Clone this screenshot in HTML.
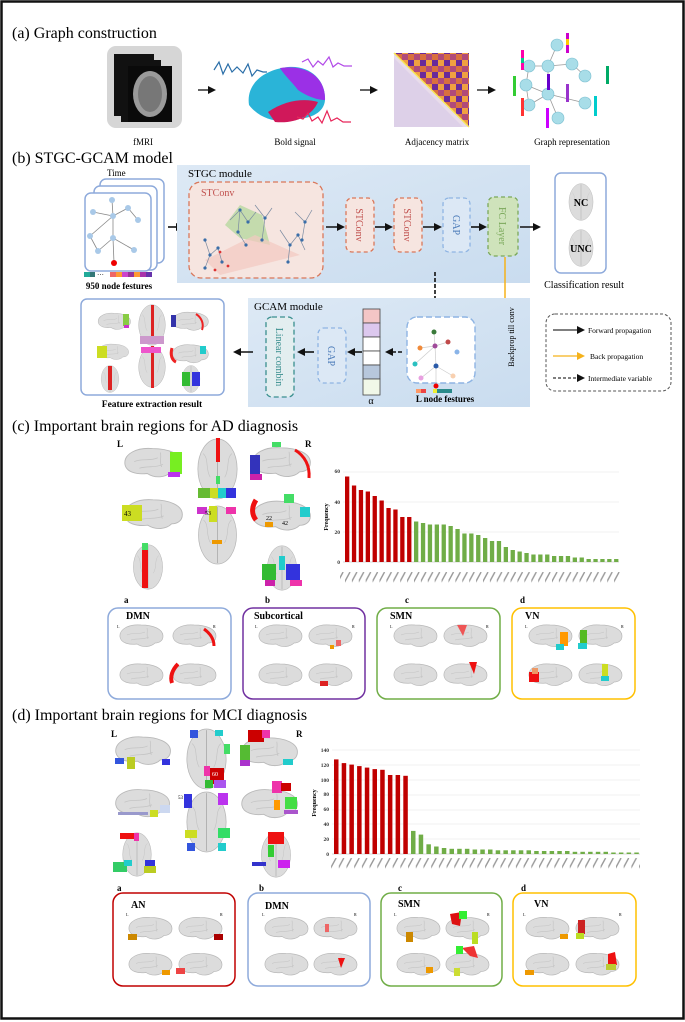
<!DOCTYPE html>
<html><head><meta charset="utf-8"><style>
html,body{margin:0;padding:0;background:#fff}
svg{display:block}
text{font-family:"Liberation Serif",serif}
</style></head><body>
<svg width="685" height="1022" viewBox="0 0 685 1022" xmlns="http://www.w3.org/2000/svg">
<defs>
<linearGradient id="bg" x1="0" y1="0" x2="1" y2="1"><stop offset="0" stop-color="#dde9f5"/><stop offset="1" stop-color="#c9dcef"/></linearGradient>
<symbol id="br" viewBox="0 0 48 26"><path d="M3 14 C2 6 12 1 24 2 C36 2 46 6 46 13 C46 18 42 20 38 20 C34 24 26 25 20 21 C12 22 4 20 3 14Z" fill="#dcdcdc" stroke="#b9b9b9" stroke-width="0.7"/><path d="M10 12 C16 9 22 12 28 9 M14 17 C20 15 26 17 32 14 M30 5 C31 9 29 12 31 16" fill="none" stroke="#c4c4c4" stroke-width="0.6"/></symbol>
<symbol id="top" viewBox="0 0 40 60"><ellipse cx="20" cy="30" rx="19" ry="29" fill="#dcdcdc" stroke="#b5b5b5" stroke-width="0.7"/><line x1="20" y1="2" x2="20" y2="58" stroke="#aaa" stroke-width="0.8"/><path d="M6 15 C12 20 8 30 13 38 M34 15 C28 20 32 30 27 38" fill="none" stroke="#c3c3c3" stroke-width="0.6"/></symbol>
<pattern id="lab" width="6.9" height="26" patternUnits="userSpaceOnUse"><line x1="5" y1="0" x2="-8" y2="24" stroke="#999" stroke-width="1.4"/></pattern>
<pattern id="lab2" width="7.7" height="26" patternUnits="userSpaceOnUse"><line x1="5" y1="0" x2="-8" y2="24" stroke="#999" stroke-width="1.4"/></pattern>
<pattern id="mx" width="12" height="12" patternUnits="userSpaceOnUse"><rect width="12" height="12" fill="#d9703e"/><rect width="6" height="6" fill="#6a2a9a"/><rect x="6" y="6" width="6" height="6" fill="#b04a7a"/><rect x="6" width="6" height="6" fill="#f0a040"/></pattern>
<marker id="ah" markerWidth="8" markerHeight="8" refX="6" refY="4" orient="auto" markerUnits="userSpaceOnUse"><path d="M0 0 L8 4 L0 8Z" fill="#111"/></marker>
<marker id="ao" markerWidth="8" markerHeight="8" refX="6" refY="4" orient="auto" markerUnits="userSpaceOnUse"><path d="M0 0 L8 4 L0 8Z" fill="#f5b21b"/></marker>
</defs>
<rect x="1.5" y="1.5" width="682" height="1017" fill="none" stroke="#111" stroke-width="2.5"/>

<!-- (a) -->
<text x="12" y="38" font-size="16">(a) Graph construction</text>
<rect x="107" y="46" width="75" height="82" rx="9" fill="#d6d6d6"/>
<rect x="114" y="54" width="40" height="62" fill="#111"/>
<rect x="121" y="60" width="40" height="62" fill="#111"/>
<rect x="128" y="66" width="44" height="56" fill="#0a0a0a"/>
<ellipse cx="150" cy="94" rx="17" ry="23" fill="#9a9a9a"/>
<ellipse cx="150" cy="94" rx="12" ry="18" fill="#777"/>
<text x="143" y="145" font-size="9" text-anchor="middle">fMRI</text>
<line x1="198" y1="90" x2="214" y2="90" stroke="#111" stroke-width="1.3" marker-end="url(#ah)"/>
<path d="M249 105 C246 85 262 70 288 67 C310 65 326 80 325 100 C324 115 305 120 295 118 C285 124 262 122 249 105Z" fill="#2ab4d8"/>
<path d="M280 68 C310 64 326 80 325 100 C316 100 305 95 298 90 C292 82 284 75 280 68Z" fill="#9b30e6"/>
<path d="M268 112 C285 100 305 98 318 102 C312 116 295 124 275 122Z" fill="#d0185a"/>
<path d="M214 70 l5 -8 4 12 5 -10 4 8 5 -5 6 6 5 -9 4 12 5 -6 6 2 4 0" fill="none" stroke="#2a6ea8" stroke-width="1.2"/>
<path d="M302 62 l6 -3 5 8 5 -6 5 4 6 -8 4 10 5 -4 6 3 8 0" fill="none" stroke="#b24ae8" stroke-width="1.2"/>
<path d="M297 117 l6 2 5 -6 4 8 6 -4 4 6 5 -12 4 10 6 -3 6 4 8 0" fill="none" stroke="#e8265a" stroke-width="1.2"/>
<text x="295" y="145" font-size="9" text-anchor="middle">Bold signal</text>
<line x1="360" y1="90" x2="376" y2="90" stroke="#111" stroke-width="1.3" marker-end="url(#ah)"/>
<rect x="394" y="53" width="75" height="74" fill="#e8dcea"/>
<path d="M394 53 H469 V127Z" fill="url(#mx)"/>
<path d="M394 58 V127 H463Z" fill="#ddd0e8"/>
<line x1="394" y1="53" x2="469" y2="127" stroke="#f7e85a" stroke-width="1.5"/>
<text x="437" y="145" font-size="9" text-anchor="middle">Adjacency matrix</text>
<line x1="477" y1="90" x2="494" y2="90" stroke="#111" stroke-width="1.3" marker-end="url(#ah)"/>
<g stroke="#999" stroke-width="0.8">
<line x1="529" y1="66" x2="548" y2="66"/><line x1="548" y1="66" x2="557" y2="45"/><line x1="548" y1="66" x2="572" y2="64"/><line x1="572" y1="64" x2="585" y2="76"/><line x1="529" y1="66" x2="526" y2="85"/><line x1="548" y1="66" x2="548" y2="94"/><line x1="526" y1="85" x2="548" y2="94"/><line x1="526" y1="85" x2="529" y2="105"/><line x1="529" y1="105" x2="548" y2="94"/><line x1="548" y1="94" x2="585" y2="103"/><line x1="548" y1="94" x2="558" y2="118"/>
</g>
<g fill="#a8dde8" stroke="#7bbfd0" stroke-width="0.6">
<circle cx="557" cy="45" r="6"/><circle cx="529" cy="66" r="6"/><circle cx="548" cy="66" r="6"/><circle cx="572" cy="64" r="6"/><circle cx="585" cy="76" r="6"/><circle cx="526" cy="85" r="6"/><circle cx="548" cy="94" r="6"/><circle cx="529" cy="105" r="6"/><circle cx="585" cy="103" r="6"/><circle cx="558" cy="118" r="6"/>
</g>
<g><rect x="566" y="33" width="3" height="20" fill="#c0c"/><rect x="566" y="39" width="3" height="6" fill="#fc0"/><rect x="521" y="50" width="3" height="20" fill="#f0a"/><rect x="521" y="58" width="3" height="5" fill="#0c8"/><rect x="547" y="74" width="3" height="16" fill="#60c"/><rect x="513" y="76" width="3" height="20" fill="#3c3"/><rect x="606" y="66" width="3" height="18" fill="#0a6"/><rect x="521" y="98" width="3" height="18" fill="#f33"/><rect x="566" y="84" width="3" height="18" fill="#93c"/><rect x="594" y="96" width="3" height="20" fill="#0cc"/><rect x="546" y="108" width="3" height="20" fill="#c0f"/></g>
<text x="572" y="145" font-size="9" text-anchor="middle">Graph representation</text>

<!-- (b) -->
<text x="12" y="163" font-size="16">(b) STGC-GCAM model</text>
<text x="107" y="176" font-size="9">Time</text>
<line x1="86" y1="205" x2="97" y2="192" stroke="#111" stroke-width="1"/>
<rect x="100" y="179" width="64" height="84" rx="6" fill="#fff" stroke="#8eaadb" stroke-width="1.5"/>
<rect x="94" y="186" width="63" height="84" rx="6" fill="#fff" stroke="#8eaadb" stroke-width="1.5"/>
<rect x="85" y="193" width="66" height="78" rx="6" fill="#fff" stroke="#8eaadb" stroke-width="1.5"/>
<g stroke="#888" stroke-width="0.8"><line x1="112" y1="200" x2="113" y2="216"/><line x1="113" y1="216" x2="93" y2="212"/><line x1="113" y1="216" x2="128" y2="208"/><line x1="128" y1="208" x2="138" y2="220"/><line x1="113" y1="216" x2="90" y2="236"/><line x1="113" y1="216" x2="113" y2="238"/><line x1="90" y1="236" x2="98" y2="251"/><line x1="113" y1="238" x2="98" y2="251"/><line x1="113" y1="238" x2="134" y2="250"/><line x1="113" y1="238" x2="114" y2="263"/></g>
<g fill="#a9c9e8"><circle cx="112" cy="200" r="3"/><circle cx="113" cy="216" r="3"/><circle cx="93" cy="212" r="3"/><circle cx="128" cy="208" r="3"/><circle cx="138" cy="220" r="3"/><circle cx="90" cy="236" r="3"/><circle cx="113" cy="238" r="3"/><circle cx="98" cy="251" r="3"/><circle cx="134" cy="250" r="3"/></g>
<circle cx="114" cy="263" r="3" fill="#e00"/>
<rect x="84" y="272" width="6" height="5" fill="#2a9"/><rect x="90" y="272" width="5" height="5" fill="#377"/><text x="97" y="277" font-size="7">···</text><rect x="110" y="272" width="6" height="5" fill="#e66"/><rect x="116" y="272" width="6" height="5" fill="#f93"/><rect x="122" y="272" width="6" height="5" fill="#c4c"/><rect x="128" y="272" width="6" height="5" fill="#939"/><rect x="134" y="272" width="6" height="5" fill="#f93"/><rect x="140" y="272" width="6" height="5" fill="#a3a"/><rect x="146" y="272" width="6" height="5" fill="#63a"/>
<text x="119" y="289" font-size="9" font-weight="bold" text-anchor="middle">950 node festures</text>
<line x1="168" y1="227" x2="182" y2="227" stroke="#111" stroke-width="1.6" marker-end="url(#ah)"/>

<rect x="177" y="165" width="353" height="118" fill="url(#bg)"/>
<text x="188" y="177" font-size="11">STGC module</text>
<rect x="189" y="182" width="134" height="96" rx="12" fill="#f6e5e0" stroke="#d9775a" stroke-width="1.3" stroke-dasharray="5,3"/>
<text x="201" y="196" font-size="10" fill="#c0504d">STConv</text>
<path d="M225 225 L240 205 L262 215 L270 245 L240 238Z" fill="#b8d8a0" opacity="0.8"/>
<path d="M205 260 L255 235 L300 255 L220 275Z" fill="#f3c9c0" opacity="0.7"/>
<g stroke="#7a8aa0" stroke-width="0.7" fill="none"><path d="M205 240 L210 255 L218 248 L222 262 M210 255 L205 268 M230 220 L240 210 L248 222 L256 212 M240 210 L238 232 L246 245 M255 205 L265 218 L272 208 M265 218 L262 240 M280 230 L290 245 L298 235 L305 250 M290 245 L288 262 M295 212 L305 222 L312 210 M305 222 L302 240"/></g>
<g fill="#3a6ea8"><circle cx="205" cy="240" r="1.6"/><circle cx="210" cy="255" r="1.6"/><circle cx="218" cy="248" r="1.6"/><circle cx="222" cy="262" r="1.6"/><circle cx="205" cy="268" r="1.6"/><circle cx="240" cy="210" r="1.6"/><circle cx="248" cy="222" r="1.6"/><circle cx="238" cy="232" r="1.6"/><circle cx="246" cy="245" r="1.6"/><circle cx="265" cy="218" r="1.6"/><circle cx="262" cy="240" r="1.6"/><circle cx="290" cy="245" r="1.6"/><circle cx="298" cy="235" r="1.6"/><circle cx="288" cy="262" r="1.6"/><circle cx="305" cy="222" r="1.6"/><circle cx="302" cy="240" r="1.6"/></g>
<g fill="#d33"><circle cx="215" cy="270" r="1.4"/><circle cx="228" cy="266" r="1.4"/><circle cx="220" cy="252" r="1.4"/></g>
<line x1="326" y1="227" x2="343" y2="227" stroke="#111" stroke-width="1.6" marker-end="url(#ah)"/>
<rect x="346" y="198" width="28" height="54" rx="6" fill="#f6e5e0" stroke="#d9775a" stroke-width="1.3" stroke-dasharray="4,3"/>
<text transform="translate(356,225) rotate(90)" font-size="10" fill="#c0504d" text-anchor="middle">STConv</text>
<line x1="375" y1="227" x2="391" y2="227" stroke="#111" stroke-width="1.6" marker-end="url(#ah)"/>
<rect x="394" y="198" width="28" height="54" rx="6" fill="#f6e5e0" stroke="#d9775a" stroke-width="1.3" stroke-dasharray="4,3"/>
<text transform="translate(404,225) rotate(90)" font-size="10" fill="#c0504d" text-anchor="middle">STConv</text>
<line x1="423" y1="227" x2="440" y2="227" stroke="#111" stroke-width="1.6" marker-end="url(#ah)"/>
<rect x="443" y="198" width="27" height="54" rx="6" fill="#dce8f5" stroke="#8eb4e3" stroke-width="1.3" stroke-dasharray="4,3"/>
<text transform="translate(453,225) rotate(90)" font-size="10" fill="#4a7ab8" text-anchor="middle">GAP</text>
<line x1="471" y1="227" x2="485" y2="227" stroke="#111" stroke-width="1.6" marker-end="url(#ah)"/>
<rect x="488" y="197" width="30" height="59" rx="6" fill="#cfe3bb" stroke="#7aa85a" stroke-width="1.3" stroke-dasharray="4,3"/>
<text transform="translate(499,226) rotate(90)" font-size="10" fill="#7aa85a" text-anchor="middle">FC Layer</text>
<line x1="520" y1="227" x2="539" y2="227" stroke="#111" stroke-width="1.6" marker-end="url(#ah)"/>
<rect x="555" y="173" width="51" height="100" rx="6" fill="#fff" stroke="#8eaadb" stroke-width="1.5"/>
<use href="#top" x="562" y="183" width="38" height="38"/>
<use href="#top" x="562" y="229" width="38" height="38"/>
<text x="581" y="206" font-size="10" font-weight="bold" text-anchor="middle">NC</text>
<text x="581" y="252" font-size="10" font-weight="bold" text-anchor="middle">UNC</text>
<text x="584" y="288" font-size="10" text-anchor="middle">Classification result</text>

<line x1="435" y1="272" x2="435" y2="305" stroke="#111" stroke-width="1.6" stroke-dasharray="4,2" marker-end="url(#ah)"/>
<polyline points="505,257 505,352 482,352" fill="none" stroke="#f5b21b" stroke-width="1.5" marker-end="url(#ao)"/>
<rect x="248" y="298" width="282" height="109" fill="url(#bg)"/>
<text transform="translate(514,337) rotate(-90)" font-size="8" text-anchor="middle">Backprop till conv</text>
<text x="254" y="310" font-size="11">GCAM module</text>
<rect x="266" y="317" width="28" height="80" rx="6" fill="#e3eef0" stroke="#3a8f8f" stroke-width="1.3" stroke-dasharray="5,3"/>
<text transform="translate(276,357) rotate(90)" font-size="10" fill="#3a8f8f" text-anchor="middle">Linear combin</text>
<rect x="318" y="328" width="28" height="55" rx="6" fill="#dce8f5" stroke="#8eb4e3" stroke-width="1.3" stroke-dasharray="4,3"/>
<text transform="translate(328,356) rotate(90)" font-size="10" fill="#4a7ab8" text-anchor="middle">GAP</text>
<g stroke="#444" stroke-width="0.8"><rect x="363" y="309" width="17" height="14" fill="#f4c6c6"/><rect x="363" y="323" width="17" height="14" fill="#dcc8ee"/><rect x="363" y="337" width="17" height="14" fill="#fff"/><rect x="363" y="351" width="17" height="14" fill="#fff"/><rect x="363" y="365" width="17" height="14" fill="#b7c7dc"/><rect x="363" y="379" width="17" height="16" fill="#f1f8e8"/></g>
<text x="371" y="404" font-size="10" text-anchor="middle">α</text>
<rect x="407" y="317" width="68" height="66" rx="10" fill="#fff" stroke="#8eb4e3" stroke-width="1.4" stroke-dasharray="6,3"/>
<g stroke="#ccc" stroke-width="0.7"><line x1="434" y1="332" x2="435" y2="346"/><line x1="435" y1="346" x2="420" y2="348"/><line x1="435" y1="346" x2="448" y2="342"/><line x1="435" y1="346" x2="415" y2="364"/><line x1="435" y1="346" x2="436" y2="366"/><line x1="436" y1="366" x2="421" y2="378"/><line x1="436" y1="366" x2="453" y2="376"/><line x1="436" y1="366" x2="436" y2="386"/></g>
<circle cx="434" cy="332" r="2.5" fill="#3a7a3a"/><circle cx="435" cy="346" r="2.5" fill="#a04a9a"/><circle cx="420" cy="348" r="2.5" fill="#f08a3a"/><circle cx="448" cy="342" r="2.5" fill="#c04a4a"/><circle cx="457" cy="352" r="2.5" fill="#8ab4e8"/><circle cx="415" cy="364" r="2.5" fill="#2ac0c0"/><circle cx="436" cy="366" r="2.5" fill="#2a5aa8"/><circle cx="421" cy="378" r="2.5" fill="#e8a0e0"/><circle cx="453" cy="376" r="2.5" fill="#f8d0b0"/><circle cx="436" cy="386" r="2.5" fill="#e00"/>
<rect x="416" y="389" width="5" height="4" fill="#f96"/><rect x="421" y="389" width="5" height="4" fill="#e44"/><rect x="433" y="389" width="4" height="4" fill="#ee3"/><rect x="437" y="389" width="15" height="4" fill="#2a8a8a"/>
<text x="445" y="402" font-size="9" font-weight="bold" text-anchor="middle">L node festures</text>
<line x1="402" y1="352" x2="387" y2="352" stroke="#111" stroke-width="1.6" stroke-dasharray="4,2" marker-end="url(#ah)"/>
<line x1="362" y1="352" x2="349" y2="352" stroke="#111" stroke-width="1.6" marker-end="url(#ah)"/>
<line x1="314" y1="352" x2="299" y2="352" stroke="#111" stroke-width="1.6" marker-end="url(#ah)"/>
<line x1="253" y1="352" x2="235" y2="352" stroke="#111" stroke-width="1.6" marker-end="url(#ah)"/>
<rect x="546" y="314" width="125" height="77" rx="9" fill="#fff" stroke="#555" stroke-width="1" stroke-dasharray="3,2"/>
<line x1="553" y1="330" x2="583" y2="330" stroke="#333" stroke-width="1.3" marker-end="url(#ah)"/>
<text x="588" y="333" font-size="7.5">Forward propagation</text>
<line x1="553" y1="356" x2="583" y2="356" stroke="#f5b21b" stroke-width="1.3" marker-end="url(#ao)"/>
<text x="590" y="359" font-size="7.5">Back propagation</text>
<line x1="553" y1="378" x2="583" y2="378" stroke="#333" stroke-width="1.3" stroke-dasharray="3,2" marker-end="url(#ah)"/>
<text x="588" y="381" font-size="7.5">Intermediate variable</text>
<rect x="81" y="299" width="143" height="96" rx="6" fill="#fff" stroke="#8eaadb" stroke-width="1.5"/>
<use href="#br" x="96" y="309" width="36" height="25"/><rect x="123" y="314" width="6" height="12" fill="#8c4"/><rect x="124" y="325" width="5" height="3" fill="#c3c"/>
<use href="#top" x="138" y="304" width="28" height="42"/><rect x="151" y="305" width="3" height="38" fill="#d22"/><rect x="140" y="336" width="24" height="8" fill="#c9c"/>
<use href="#br" x="170" y="309" width="40" height="25"/><rect x="171" y="315" width="5" height="12" fill="#33a"/><path d="M196 314 C202 318 204 324 202 330" stroke="#e22" stroke-width="2" fill="none"/>
<use href="#br" x="96" y="340" width="34" height="24"/><rect x="97" y="346" width="10" height="12" fill="#cd2"/>
<use href="#top" x="138" y="345" width="28" height="44"/><rect x="151" y="346" width="3" height="42" fill="#d22"/><rect x="141" y="347" width="20" height="6" fill="#e5c"/>
<use href="#br" x="170" y="342" width="40" height="24"/><path d="M172 348 C170 355 172 360 176 362" stroke="#e22" stroke-width="3" fill="none"/><rect x="200" y="346" width="6" height="8" fill="#2cc"/>
<use href="#top" x="98" y="365" width="24" height="28"/><rect x="108" y="366" width="4" height="24" fill="#d22"/>
<use href="#top" x="178" y="365" width="26" height="28"/><rect x="182" y="372" width="8" height="14" fill="#3b3"/><rect x="192" y="372" width="8" height="14" fill="#33d"/>
<text x="152" y="407" font-size="9.5" font-weight="bold" text-anchor="middle">Feature extraction result</text>

<!-- (c) -->
<text x="12" y="431" font-size="16">(c) Important brain regions for AD diagnosis</text>
<text x="117" y="447" font-size="9" font-weight="bold" font-family="Liberation Sans,sans-serif">L</text>
<text x="305" y="447" font-size="9" font-weight="bold" font-family="Liberation Sans,sans-serif">R</text>
<use href="#br" x="121" y="442" width="63" height="42"/><rect x="170" y="452" width="12" height="22" fill="#7e2"/><rect x="168" y="472" width="12" height="5" fill="#b3e"/>
<use href="#br" x="121" y="493" width="64" height="43"/><rect x="122" y="505" width="20" height="16" fill="#cd2"/><text x="124" y="516" font-size="7">43</text>
<use href="#top" x="124" y="544" width="48" height="46"/><rect x="142" y="550" width="6" height="38" fill="#e11"/><rect x="142" y="543" width="6" height="7" fill="#4d6"/>
<use href="#top" x="196" y="438" width="43" height="62"/><rect x="216" y="438" width="4" height="24" fill="#e11"/><rect x="216" y="476" width="4" height="8" fill="#4d6"/><rect x="198" y="488" width="12" height="10" fill="#6b3"/><rect x="210" y="488" width="8" height="10" fill="#cd2"/><rect x="218" y="488" width="8" height="10" fill="#2cc"/><rect x="226" y="488" width="10" height="10" fill="#33d"/>
<use href="#top" x="196" y="505" width="43" height="60"/><rect x="197" y="507" width="10" height="7" fill="#c3c"/><rect x="209" y="506" width="8" height="16" fill="#cd2"/><rect x="226" y="507" width="10" height="7" fill="#e3a"/><rect x="212" y="540" width="10" height="4" fill="#e90"/><text x="205" y="515" font-size="6">53</text>
<use href="#br" x="249" y="440" width="64" height="45"/><rect x="250" y="455" width="10" height="20" fill="#33b"/><rect x="250" y="474" width="12" height="6" fill="#c2a"/><rect x="272" y="442" width="9" height="5" fill="#4d6"/><path d="M295 450 C305 456 310 466 309 478" stroke="#e11" stroke-width="3" fill="none"/>
<use href="#br" x="249" y="495" width="64" height="42"/><path d="M256 500 C251 508 252 515 256 520" stroke="#e11" stroke-width="5" fill="none"/><rect x="284" y="494" width="10" height="9" fill="#4d6"/><rect x="300" y="507" width="10" height="10" fill="#2cc"/><rect x="265" y="522" width="8" height="5" fill="#e90"/><text x="266" y="520" font-size="6">22</text><text x="282" y="525" font-size="6">42</text>
<use href="#top" x="252" y="545" width="60" height="46"/><rect x="262" y="564" width="14" height="16" fill="#3b3"/><rect x="279" y="556" width="6" height="14" fill="#2cc"/><rect x="286" y="564" width="14" height="16" fill="#33d"/><rect x="265" y="580" width="10" height="6" fill="#c2a"/><rect x="290" y="580" width="12" height="6" fill="#e3a"/>
<!-- chart c -->
<g font-family="Liberation Serif,serif" font-size="5.5" font-weight="bold" fill="#333" text-anchor="end"><text x="340" y="473">60</text><text x="340" y="504">40</text><text x="340" y="534">20</text><text x="340" y="564">0</text></g>
<g stroke="#eee" stroke-width="0.7"><line x1="343" y1="472" x2="619" y2="472"/><line x1="343" y1="502" x2="619" y2="502"/><line x1="343" y1="532" x2="619" y2="532"/></g>
<line x1="343" y1="562" x2="619" y2="562" stroke="#ccc" stroke-width="0.8"/>
<text transform="translate(328,517) rotate(-90)" font-size="6" font-weight="bold" text-anchor="middle">Frequency</text>
<g fill="#c00000"><rect x="345" y="476.5" width="4.3" height="85.5"/><rect x="351.9" y="485.5" width="4.3" height="76.5"/><rect x="358.8" y="490" width="4.3" height="72"/><rect x="365.7" y="491.5" width="4.3" height="70.5"/><rect x="372.6" y="496" width="4.3" height="66"/><rect x="379.5" y="500.5" width="4.3" height="61.5"/><rect x="386.4" y="508" width="4.3" height="54"/><rect x="393.3" y="509.5" width="4.3" height="52.5"/><rect x="400.2" y="517" width="4.3" height="45"/><rect x="407.1" y="517" width="4.3" height="45"/></g>
<g fill="#70ad47"><rect x="414" y="521.5" width="4.3" height="40.5"/><rect x="420.9" y="523" width="4.3" height="39"/><rect x="427.8" y="524.5" width="4.3" height="37.5"/><rect x="434.7" y="524.5" width="4.3" height="37.5"/><rect x="441.6" y="524.5" width="4.3" height="37.5"/><rect x="448.5" y="526" width="4.3" height="36"/><rect x="455.4" y="529" width="4.3" height="33"/><rect x="462.3" y="533.5" width="4.3" height="28.5"/><rect x="469.2" y="533.5" width="4.3" height="28.5"/><rect x="476.1" y="535" width="4.3" height="27"/><rect x="483" y="538" width="4.3" height="24"/><rect x="489.9" y="541" width="4.3" height="21"/><rect x="496.8" y="541" width="4.3" height="21"/><rect x="503.7" y="547" width="4.3" height="15"/><rect x="510.6" y="550" width="4.3" height="12"/><rect x="517.5" y="551.5" width="4.3" height="10.5"/><rect x="524.4" y="553" width="4.3" height="9"/><rect x="531.3" y="554.5" width="4.3" height="7.5"/><rect x="538.2" y="554.5" width="4.3" height="7.5"/><rect x="545.1" y="554.5" width="4.3" height="7.5"/><rect x="552" y="556" width="4.3" height="6"/><rect x="558.9" y="556" width="4.3" height="6"/><rect x="565.8" y="556" width="4.3" height="6"/><rect x="572.7" y="557.5" width="4.3" height="4.5"/><rect x="579.6" y="557.5" width="4.3" height="4.5"/><rect x="586.5" y="559" width="4.3" height="3"/><rect x="593.4" y="559" width="4.3" height="3"/><rect x="600.3" y="559" width="4.3" height="3"/><rect x="607.2" y="559" width="4.3" height="3"/><rect x="614.1" y="559" width="4.3" height="3"/></g>
<rect x="340" y="565" width="280" height="24" fill="url(#lab)"/>
<!-- c network boxes -->
<g font-size="9" font-weight="bold"><text x="124" y="603">a</text><text x="265" y="603">b</text><text x="405" y="603">c</text><text x="520" y="603">d</text></g>
<rect x="108" y="608" width="123" height="91" rx="10" fill="#fff" stroke="#8eaadb" stroke-width="1.5"/>
<rect x="243" y="608" width="122" height="91" rx="10" fill="#fff" stroke="#7030a0" stroke-width="1.5"/>
<rect x="377" y="608" width="123" height="91" rx="10" fill="#fff" stroke="#70ad47" stroke-width="1.5"/>
<rect x="512" y="608" width="123" height="91" rx="10" fill="#fff" stroke="#ffc000" stroke-width="1.5"/>
<g font-size="10" font-weight="bold"><text x="126" y="619">DMN</text><text x="254" y="619">Subcortical</text><text x="390" y="619">SMN</text><text x="525" y="619">VN</text></g>
<g font-size="4" font-family="Liberation Sans,sans-serif"><text x="117" y="628">L</text><text x="213" y="628">R</text><text x="255" y="628">L</text><text x="352" y="628">R</text><text x="390" y="628">L</text><text x="486" y="628">R</text><text x="525" y="628">L</text><text x="621" y="628">R</text></g>
<g>
<use href="#br" x="117" y="623" width="48" height="26"/><use href="#br" x="170" y="623" width="48" height="26"/><use href="#br" x="117" y="662" width="48" height="26"/><use href="#br" x="170" y="662" width="48" height="26"/>
<use href="#br" x="256" y="623" width="48" height="26"/><use href="#br" x="306" y="623" width="48" height="26"/><use href="#br" x="256" y="662" width="48" height="26"/><use href="#br" x="306" y="662" width="48" height="26"/>
<use href="#br" x="391" y="623" width="48" height="26"/><use href="#br" x="441" y="623" width="48" height="26"/><use href="#br" x="391" y="662" width="48" height="26"/><use href="#br" x="441" y="662" width="48" height="26"/>
<use href="#br" x="526" y="623" width="48" height="26"/><use href="#br" x="576" y="623" width="48" height="26"/><use href="#br" x="526" y="662" width="48" height="26"/><use href="#br" x="576" y="662" width="48" height="26"/>
</g>
<path d="M204 629 C211 634 214 640 214 646" stroke="#e11" stroke-width="3" fill="none"/>
<path d="M178 664 C172 670 170 677 172 683" stroke="#e11" stroke-width="4" fill="none"/>
<rect x="336" y="640" width="5" height="6" fill="#e66"/><rect x="330" y="645" width="4" height="4" fill="#e90"/><rect x="320" y="681" width="8" height="5" fill="#d22"/>
<path d="M457 625 L467 625 L463 636Z" fill="#e55"/><path d="M469 662 L477 662 L474 674Z" fill="#e11"/>
<rect x="560" y="632" width="8" height="14" fill="#f90"/><rect x="556" y="644" width="8" height="6" fill="#2cc"/><rect x="580" y="630" width="7" height="15" fill="#5b2"/><rect x="578" y="643" width="9" height="6" fill="#2cc"/>
<rect x="529" y="672" width="10" height="10" fill="#e11"/><rect x="532" y="668" width="6" height="6" fill="#e96"/><rect x="602" y="664" width="6" height="12" fill="#cd2"/><rect x="601" y="676" width="8" height="5" fill="#2cc"/>

<!-- (d) -->
<text x="12" y="720" font-size="16">(d) Important brain regions for MCI diagnosis</text>
<text x="111" y="737" font-size="9" font-weight="bold" font-family="Liberation Sans,sans-serif">L</text>
<text x="296" y="737" font-size="9" font-weight="bold" font-family="Liberation Sans,sans-serif">R</text>
<use href="#br" x="112" y="730" width="61" height="42"/><rect x="115" y="758" width="9" height="6" fill="#35d"/><rect x="127" y="757" width="8" height="12" fill="#bc2"/><rect x="162" y="759" width="8" height="6" fill="#33d"/>
<use href="#br" x="112" y="782" width="60" height="43"/><rect x="150" y="810" width="8" height="7" fill="#cd2"/><rect x="160" y="805" width="10" height="8" fill="#ccd8f0"/><rect x="118" y="812" width="30" height="3" fill="#99c"/>
<use href="#top" x="114" y="832" width="46" height="45"/><rect x="120" y="833" width="16" height="6" fill="#e11"/><rect x="134" y="833" width="5" height="8" fill="#e3a"/><rect x="113" y="862" width="14" height="10" fill="#3c6"/><rect x="124" y="860" width="8" height="6" fill="#2cc"/><rect x="145" y="860" width="10" height="6" fill="#33d"/><rect x="144" y="866" width="12" height="7" fill="#bc2"/>
<use href="#top" x="183" y="728" width="47" height="62"/><rect x="190" y="730" width="8" height="8" fill="#35d"/><rect x="215" y="730" width="8" height="6" fill="#2cc"/><rect x="224" y="744" width="6" height="10" fill="#4d6"/><rect x="204" y="766" width="6" height="10" fill="#e3a"/><rect x="210" y="768" width="14" height="16" fill="#c00"/><text x="212" y="776" font-size="6" fill="#fff">60</text><rect x="205" y="780" width="8" height="8" fill="#3b3"/><rect x="214" y="780" width="12" height="8" fill="#a5e"/>
<use href="#top" x="183" y="791" width="47" height="62"/><rect x="184" y="794" width="8" height="14" fill="#33d"/><rect x="218" y="793" width="10" height="12" fill="#b3e"/><rect x="185" y="830" width="12" height="8" fill="#cd2"/><rect x="218" y="828" width="12" height="10" fill="#3d6"/><rect x="187" y="843" width="8" height="8" fill="#35d"/><rect x="218" y="843" width="8" height="8" fill="#2cc"/><text x="178" y="799" font-size="5">53</text>
<use href="#br" x="238" y="730" width="62" height="44"/><rect x="248" y="730" width="16" height="12" fill="#c00"/><rect x="262" y="730" width="8" height="8" fill="#e3a"/><rect x="240" y="745" width="10" height="16" fill="#5b3"/><rect x="240" y="760" width="10" height="6" fill="#a3c"/><rect x="283" y="759" width="10" height="6" fill="#2cc"/>
<use href="#br" x="238" y="782" width="62" height="44"/><rect x="272" y="781" width="10" height="12" fill="#e3a"/><rect x="281" y="783" width="10" height="8" fill="#c00"/><rect x="285" y="797" width="12" height="12" fill="#4d4"/><rect x="274" y="800" width="6" height="10" fill="#f90"/><rect x="284" y="810" width="14" height="4" fill="#a5c"/>
<use href="#top" x="252" y="832" width="48" height="46"/><rect x="268" y="832" width="16" height="12" fill="#e11"/><rect x="268" y="845" width="6" height="12" fill="#3c3"/><rect x="252" y="862" width="14" height="4" fill="#33c"/><rect x="278" y="860" width="12" height="8" fill="#c2e"/>
<!-- chart d -->
<g font-size="5.5" font-weight="bold" fill="#333" text-anchor="end"><text x="329" y="752">140</text><text x="329" y="767">120</text><text x="329" y="782">100</text><text x="329" y="796">80</text><text x="329" y="811">60</text><text x="329" y="826">40</text><text x="329" y="841">20</text><text x="329" y="856">0</text></g>
<g stroke="#eee" stroke-width="0.7"><line x1="332" y1="750" x2="640" y2="750"/><line x1="332" y1="765" x2="640" y2="765"/><line x1="332" y1="780" x2="640" y2="780"/><line x1="332" y1="795" x2="640" y2="795"/><line x1="332" y1="810" x2="640" y2="810"/><line x1="332" y1="824" x2="640" y2="824"/><line x1="332" y1="839" x2="640" y2="839"/></g>
<line x1="332" y1="854" x2="640" y2="854" stroke="#ccc" stroke-width="0.8"/>
<text transform="translate(316,803) rotate(-90)" font-size="6" font-weight="bold" text-anchor="middle">Frequency</text>
<g fill="#c00000"><rect x="334" y="759.4" width="4.5" height="94.6"/><rect x="341.7" y="763.1" width="4.5" height="90.9"/><rect x="349.4" y="764.6" width="4.5" height="89.4"/><rect x="357.1" y="766.1" width="4.5" height="87.9"/><rect x="364.8" y="767.6" width="4.5" height="86.4"/><rect x="372.5" y="769.1" width="4.5" height="84.9"/><rect x="380.2" y="769.8" width="4.5" height="84.2"/><rect x="387.9" y="775" width="4.5" height="79"/><rect x="395.6" y="775" width="4.5" height="79"/><rect x="403.3" y="775.8" width="4.5" height="78.2"/></g>
<g fill="#70ad47"><rect x="411" y="830.9" width="4.5" height="23.1"/><rect x="418.7" y="834.6" width="4.5" height="19.4"/><rect x="426.4" y="844.3" width="4.5" height="9.7"/><rect x="434.1" y="846.5" width="4.5" height="7.5"/><rect x="441.8" y="848" width="4.5" height="6"/><rect x="449.5" y="848.8" width="4.5" height="5.2"/><rect x="457.2" y="848.8" width="4.5" height="5.2"/><rect x="464.9" y="848.8" width="4.5" height="5.2"/><rect x="472.6" y="849.5" width="4.5" height="4.5"/><rect x="480.3" y="849.5" width="4.5" height="4.5"/><rect x="488" y="849.5" width="4.5" height="4.5"/><rect x="495.7" y="850.3" width="4.5" height="3.7"/><rect x="503.4" y="850.3" width="4.5" height="3.7"/><rect x="511.1" y="850.3" width="4.5" height="3.7"/><rect x="518.8" y="850.3" width="4.5" height="3.7"/><rect x="526.5" y="850.3" width="4.5" height="3.7"/><rect x="534.2" y="851" width="4.5" height="3"/><rect x="541.9" y="851" width="4.5" height="3"/><rect x="549.6" y="851" width="4.5" height="3"/><rect x="557.3" y="851" width="4.5" height="3"/><rect x="565" y="851" width="4.5" height="3"/><rect x="572.7" y="851.8" width="4.5" height="2.2"/><rect x="580.4" y="851.8" width="4.5" height="2.2"/><rect x="588.1" y="851.8" width="4.5" height="2.2"/><rect x="595.8" y="851.8" width="4.5" height="2.2"/><rect x="603.5" y="851.8" width="4.5" height="2.2"/><rect x="611.2" y="852.5" width="4.5" height="1.5"/><rect x="618.9" y="852.5" width="4.5" height="1.5"/><rect x="626.6" y="852.5" width="4.5" height="1.5"/><rect x="634.3" y="852.5" width="4.5" height="1.5"/></g>
<rect x="330" y="857" width="310" height="24" fill="url(#lab2)"/>
<!-- d network boxes -->
<g font-size="9" font-weight="bold"><text x="117" y="891">a</text><text x="259" y="891">b</text><text x="398" y="891">c</text><text x="521" y="891">d</text></g>
<rect x="113" y="893" width="122" height="93" rx="10" fill="#fff" stroke="#c00000" stroke-width="1.5"/>
<rect x="248" y="893" width="122" height="93" rx="10" fill="#fff" stroke="#8eaadb" stroke-width="1.5"/>
<rect x="381" y="893" width="121" height="93" rx="10" fill="#fff" stroke="#70ad47" stroke-width="1.5"/>
<rect x="513" y="893" width="123" height="93" rx="10" fill="#fff" stroke="#ffc000" stroke-width="1.5"/>
<g font-size="10" font-weight="bold"><text x="131" y="908">AN</text><text x="265" y="909">DMN</text><text x="398" y="907">SMN</text><text x="534" y="907">VN</text></g>
<g font-size="4" font-family="Liberation Sans,sans-serif"><text x="126" y="916">L</text><text x="220" y="916">R</text><text x="262" y="916">L</text><text x="354" y="916">R</text><text x="394" y="916">L</text><text x="487" y="916">R</text><text x="523" y="916">L</text><text x="619" y="916">R</text></g>
<g>
<use href="#br" x="126" y="915" width="48" height="27"/><use href="#br" x="176" y="915" width="48" height="27"/><use href="#br" x="126" y="951" width="48" height="27"/><use href="#br" x="176" y="951" width="48" height="27"/>
<use href="#br" x="262" y="915" width="48" height="27"/><use href="#br" x="311" y="915" width="48" height="27"/><use href="#br" x="262" y="951" width="48" height="27"/><use href="#br" x="311" y="951" width="48" height="27"/>
<use href="#br" x="394" y="915" width="48" height="27"/><use href="#br" x="443" y="915" width="48" height="27"/><use href="#br" x="394" y="951" width="48" height="27"/><use href="#br" x="443" y="951" width="48" height="27"/>
<use href="#br" x="523" y="915" width="48" height="27"/><use href="#br" x="573" y="915" width="48" height="27"/><use href="#br" x="523" y="951" width="48" height="27"/><use href="#br" x="573" y="951" width="48" height="27"/>
</g>
<rect x="128" y="934" width="9" height="6" fill="#c80"/><rect x="214" y="934" width="9" height="6" fill="#a00"/><rect x="162" y="970" width="8" height="5" fill="#e90"/><rect x="176" y="968" width="9" height="6" fill="#e44"/>
<rect x="325" y="924" width="4" height="8" fill="#e66"/><path d="M338 958 L345 958 L341 968Z" fill="#e11"/>
<path d="M450 914 L462 912 L460 926 L452 924Z" fill="#d11"/><rect x="459" y="911" width="8" height="8" fill="#3e3"/><rect x="406" y="932" width="7" height="10" fill="#c80"/><rect x="472" y="932" width="6" height="12" fill="#bd2"/><path d="M462 948 L474 946 L478 958 L470 956Z" fill="#e33"/><rect x="456" y="946" width="7" height="8" fill="#3e3"/><rect x="426" y="967" width="7" height="6" fill="#e90"/><rect x="454" y="968" width="6" height="8" fill="#cd3"/>
<rect x="560" y="934" width="8" height="5" fill="#e90"/><rect x="578" y="920" width="7" height="14" fill="#c22"/><rect x="576" y="933" width="8" height="6" fill="#bd2"/><rect x="525" y="970" width="9" height="5" fill="#e90"/><path d="M608 954 L615 952 L617 965 L608 964Z" fill="#e11"/><rect x="606" y="964" width="10" height="6" fill="#bc3"/>
</svg>
</body></html>
